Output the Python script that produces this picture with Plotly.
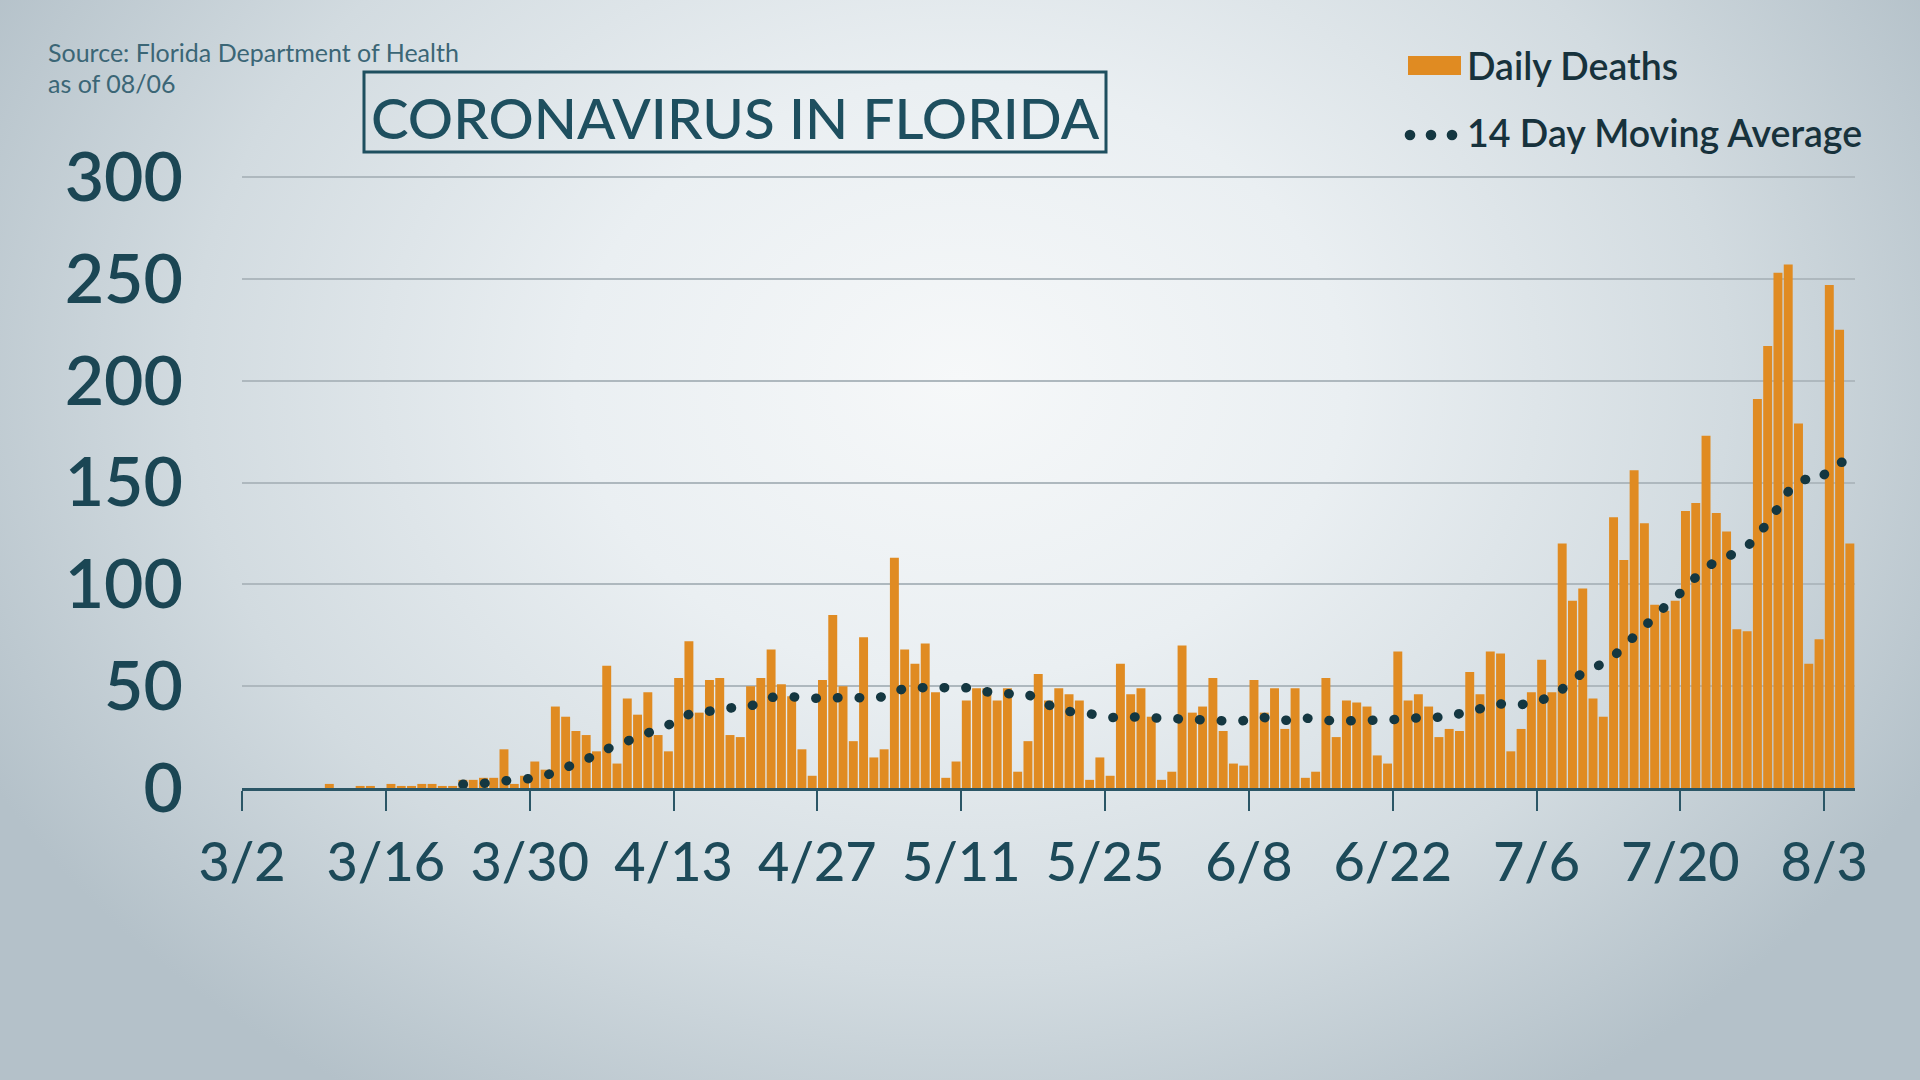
import base64
import plotly.graph_objects as go

# ---------------- data ----------------
tick_days = [0, 14, 28, 42, 56, 70, 84, 98, 112, 126, 140, 154]
tick_labels = ["3/2", "3/16", "3/30", "4/13", "4/27", "5/11", "5/25",
               "6/8", "6/22", "7/6", "7/20", "8/3"]

# daily deaths, one value per day starting 3/2 (through 8/5)
daily_deaths = [
    0, 0, 0, 0, 0, 0, 0, 0, 2, 0, 0, 1, 1, 0, 2, 1, 1, 2, 2, 1,
    1, 4, 4, 5, 5, 19, 2, 6, 13, 9, 40, 35, 28, 26, 18, 60, 12, 44, 36, 47,
    26, 18, 54, 72, 37, 53, 54, 26, 25, 50, 54, 68, 51, 45, 19, 6, 53, 85, 50, 23,
    74, 15, 19, 113, 68, 61, 71, 47, 5, 13, 43, 49, 49, 43, 49, 8, 23, 56, 43, 49,
    46, 43, 4, 15, 6, 61, 46, 49, 35, 4, 8, 70, 37, 40, 54, 28, 12, 11, 53, 37,
    49, 29, 49, 5, 8, 54, 25, 43, 42, 40, 16, 12, 67, 43, 46, 40, 25, 29, 28, 57,
    46, 67, 66, 18, 29, 47, 63, 47, 120, 92, 98, 44, 35, 133, 112, 156, 130, 90, 87, 92,
    136, 140, 173, 135, 126, 78, 77, 191, 217, 253, 257, 179, 61, 73, 247, 225, 120,
]

# 14 day moving average, one value per day starting at day index 21 (3/23)
ma_start_day = 21
moving_avg = [
    1.8, 1.7, 1.7, 2.6, 3.5, 3.7, 3.8, 4.8, 6.0, 7.8,
    10.0, 12.0, 14.0, 16.5, 19.5, 21.5, 23.0, 25.0, 26.6, 28.3,
    29.8, 33.0, 36.2, 37.0, 37.6, 38.8, 39.9, 40.0, 40.2, 42.5,
    44.5, 44.8, 45.1, 44.6, 44.0, 44.2, 44.8, 45.0, 44.5, 44.2,
    43.9, 45.0, 47.5, 49.0, 49.3, 49.4, 49.4, 49.4, 49.4, 49.2,
    48.0, 46.9, 46.5, 46.3, 46.2, 46.1, 42.8, 40.2, 38.8, 37.6,
    37.2, 36.9, 35.8, 34.6, 34.9, 35.3, 34.9, 34.5, 34.2, 33.9,
    33.7, 33.4, 33.1, 32.8, 32.6, 32.8, 33.1, 34.1, 34.6, 33.8,
    33.2, 33.8, 34.4, 33.6, 32.9, 32.9, 32.9, 32.9, 32.9, 33.0,
    33.2, 33.7, 34.2, 34.3, 34.0, 33.9, 35.0, 36.5, 37.7, 38.9,
    40.3, 41.3, 41.1, 40.9, 42.0, 43.1, 45.5, 48.5, 53.0, 56.5,
    58.5, 61.5, 64.6, 69.5, 74.5, 79.9, 85.0, 89.0, 93.2, 99.0,
    103.5, 108.0, 111.5, 113.3, 116.0, 118.6, 123.5, 130.0, 137.5, 145.5,
    150.5, 152.0, 151.2, 156.5, 159.9, 159.9,
]

y_ticks = [0, 50, 100, 150, 200, 250, 300]

# ---------------- layout geometry ----------------
W, H = 1920, 1080
ML, MR, MT, MB = 242, 65, 175, 292
PW = W - ML - MR
PH = H - MT - MB
Y_TOP = 301


def px(x):
    return (x - ML) / PW


def py(y):
    return (H - MB - y) / PH


ORANGE = "#e08b22"
DARK = "#143741"
TEAL = "#1e4f5f"
FONT = "Lato"

bar_x = [d + 0.5 for d in range(len(daily_deaths))]
ma_x = [ma_start_day + k + 0.5 for k in range(len(moving_avg))]

fig = go.Figure()
fig.add_trace(go.Bar(
    x=bar_x, y=daily_deaths, marker=dict(color=ORANGE, line=dict(width=0)),
    hoverinfo="skip", showlegend=False,
))
fig.add_trace(go.Scatter(
    x=ma_x, y=moving_avg, mode="lines",
    line=dict(color=DARK, width=9.5, dash="0.5px,21.2px"),
    hoverinfo="skip", showlegend=False, cliponaxis=False,
))

# background radial gradient
svg = (
    '<svg xmlns="http://www.w3.org/2000/svg" width="1920" height="1080" '
    'viewBox="0 0 1920 1080" preserveAspectRatio="none">'
    '<defs><radialGradient id="g" gradientUnits="userSpaceOnUse" cx="960" cy="380" r="1000" '
    'gradientTransform="translate(960 380) scale(1.1 0.85) translate(-960 -380)">'
    '<stop offset="0" stop-color="#f6f8f9"/>'
    '<stop offset="0.35" stop-color="#eaeff2"/>'
    '<stop offset="0.7" stop-color="#d2dbe0"/>'
    '<stop offset="1" stop-color="#b4c1c9"/>'
    '</radialGradient></defs>'
    '<rect x="0" y="0" width="1920" height="1080" fill="url(#g)"/></svg>'
)
bg_src = "data:image/svg+xml;base64," + base64.b64encode(svg.encode()).decode()

shapes = [
    # title box
    dict(type="rect", xref="paper", yref="paper",
         x0=px(364), x1=px(1106), y0=py(152), y1=py(72),
         line=dict(color=TEAL, width=3), fillcolor="rgba(0,0,0,0)"),
    # legend swatch
    dict(type="rect", xref="paper", yref="paper",
         x0=px(1408), x1=px(1461), y0=py(75), y1=py(56),
         line=dict(width=0), fillcolor=ORANGE),
]
for cx in (1410, 1431, 1452):
    r = 5.3
    shapes.append(dict(type="circle", xref="paper", yref="paper",
                       x0=px(cx - r), x1=px(cx + r), y0=py(135 + r), y1=py(135 - r),
                       line=dict(width=0), fillcolor=DARK))

src_font = dict(family=FONT, size=25, color="#3b6676")
annotations = [
    dict(text="Source: Florida Department of Health",
         xref="paper", yref="paper", x=px(46), y=py(52), xanchor="left", yanchor="middle",
         align="left", showarrow=False, font=src_font),
    dict(text="as of 08/06",
         xref="paper", yref="paper", x=px(46), y=py(83), xanchor="left", yanchor="middle",
         align="left", showarrow=False, font=src_font),
    dict(text="CORONAVIRUS IN FLORIDA", xref="paper", yref="paper",
         x=px(735), y=py(117), xanchor="center", yanchor="middle", showarrow=False,
         font=dict(family=FONT, size=56.5, color=TEAL, weight=500)),
    dict(text="Daily Deaths", xref="paper", yref="paper",
         x=px(1465), y=py(65), xanchor="left", yanchor="middle", showarrow=False,
         font=dict(family=FONT, size=37.5, color="#17323c", weight=600)),
    dict(text="14 Day Moving Average", xref="paper", yref="paper",
         x=px(1465), y=py(133), xanchor="left", yanchor="middle", showarrow=False,
         font=dict(family=FONT, size=37.5, color="#17323c", weight=600)),
]

fig.update_layout(
    width=W, height=H,
    margin=dict(l=ML, r=MR, t=MT, b=MB, pad=0),
    paper_bgcolor="#dde4e8", plot_bgcolor="rgba(0,0,0,0)",
    bargap=0.13, showlegend=False,
    images=[dict(source=bg_src, xref="paper", yref="paper",
                 x=-ML / PW, y=1 + MT / PH, sizex=W / PW, sizey=H / PH,
                 xanchor="left", yanchor="top", sizing="stretch", layer="below")],
    shapes=shapes, annotations=annotations,
    xaxis=dict(range=[0, len(daily_deaths)], tickmode="array",
               tickvals=tick_days, ticktext=tick_labels,
               ticks="outside", ticklen=20, tickwidth=1.5, tickcolor="#2b5666",
               showline=True, linecolor="#2b5666", linewidth=2.5,
               showgrid=False, zeroline=False, fixedrange=True,
               ticklabelstandoff=5,
               tickfont=dict(family=FONT, size=54, color="#1d4a59", weight=500)),
    yaxis=dict(range=[0, Y_TOP], tickmode="array", tickvals=y_ticks,
               showgrid=True, gridcolor="#aeb8be", gridwidth=2,
               zeroline=False, ticks="", showline=False, fixedrange=True,
               ticklabelstandoff=58,
               tickfont=dict(family=FONT, size=68, color="#1b4654", weight=600)),
)

post = """
var gd = document.getElementById('{plot_id}');
function rc(){
  gd.querySelectorAll('.scatterlayer .js-line').forEach(function(p){
    p.style.strokeLinecap = 'round';
    p.setAttribute('stroke-linecap', 'round');
  });
}
rc();
gd.on('plotly_afterplot', rc);
"""

fig.write_html("out.html", config={"displayModeBar": False}, post_script=post)
